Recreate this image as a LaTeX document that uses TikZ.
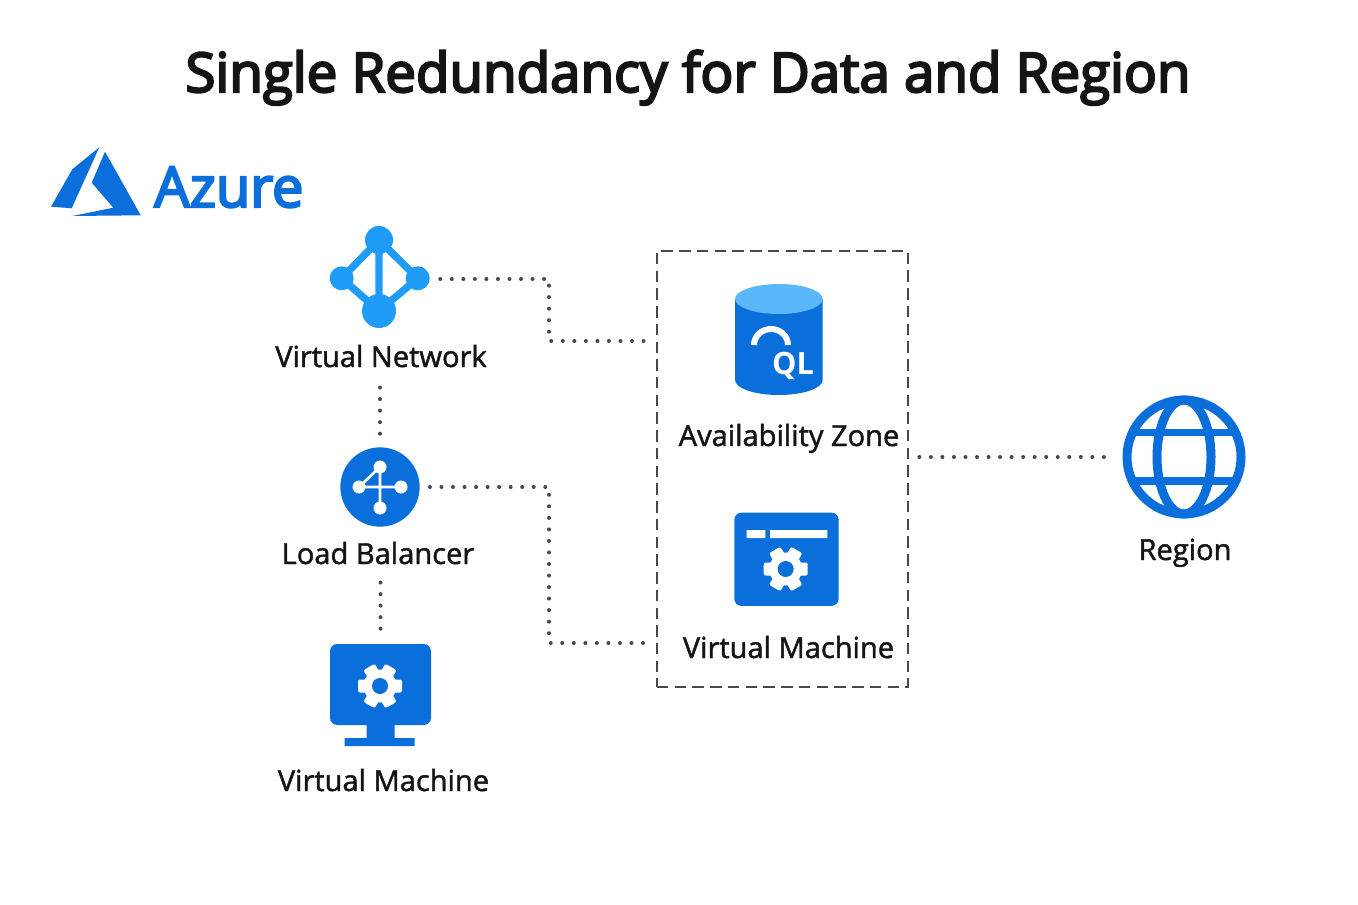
\documentclass[tikz,border=0pt]{standalone}
\usepackage{fontspec}
\setmainfont{Open Sans}
\newfontfamily\titlefont{Open Sans}[FakeBold=4]
\newfontfamily\mediumfont{Open Sans}[FakeBold=1.5]
\usetikzlibrary{arrows,backgrounds}
\definecolor{azureblue}{HTML}{0A6FDA}
\definecolor{netblue}{HTML}{1F9CF8}
\definecolor{lidblue}{HTML}{5AB7FA}
\definecolor{linegrey}{HTML}{484848}
\definecolor{labelblack}{HTML}{141414}
\tikzset{
  dotline/.style={linegrey,line width=3pt,line cap=round,dash pattern=on 0pt off 8.65pt},
  zonebox/.style={draw=linegrey,line width=2pt,dash pattern=on 8.6pt off 4.7pt,inner sep=0pt},
  tag/.style={anchor=base,inner sep=0pt,text=labelblack,font=\fontsize{21.8}{25}\selectfont\mediumfont},
  iconbox/.style={fill=azureblue,rounded corners=5.5pt,inner sep=0pt},
  hub/.style={fill=netblue,circle,inner sep=0pt},
  pics/gear/.style={code={
    \fill[white] (0,0) circle (16.5);
    \foreach \a in {30,90,...,330}
      \fill[white,rotate=\a,rounded corners=1.5pt] (-6.5,0) rectangle (6.5,22);
    \fill[azureblue] (0,0) circle (8);
  }}
}
\begin{document}
\begin{tikzpicture}[x=0.75pt,y=0.75pt,yscale=-1,xscale=1]
\useasboundingbox (0,0) rectangle (1358,905);

% Title
\node (title) [anchor=base,inner sep=0pt,text=labelblack,font=\fontsize{41}{46}\selectfont\titlefont] at (688,92) {Single Redundancy for Data and Region};

%Azure logo
\fill[azureblue] (99.3,147.3) -- (72.3,169.3) -- (51,206.7) -- (71.7,208.3) -- cycle;
\fill[azureblue] (105,151.7) -- (140.7,215.3) -- (72.3,216) -- (113.3,207.7) -- (91.7,182.7) -- cycle;
\node (azure) [anchor=base west,inner sep=0pt,text=azureblue,font=\fontsize{42}{48}\selectfont\titlefont] at (154,207) {Azure};

%Virtual network
\node (vnet) [minimum width=75pt,minimum height=60pt,inner sep=0pt] at (380,279) {};
\draw[netblue,line width=5.5pt] (379,240) -- (341.7,278.3) -- (379,311) -- (417.7,278.3) -- cycle (379,240) -- (379,311);
\node (vnettop) [hub,minimum size=21pt] at (379,240) {};
\node (vnetleft) [hub,minimum size=18pt] at (341.7,278.3) {};
\node (vnetright) [hub,minimum size=18pt] at (417.7,278.3) {};
\node (vnetbottom) [hub,minimum size=25.5pt] at (379,311) {};
\node (vnetlabel) [tag] at (381,367) {Virtual Network};

%Load balancer
\node (lb) [circle,fill=azureblue,minimum size=59.5pt,inner sep=0pt] at (380,487) {};
\draw[white,line width=2pt] (380,467) -- (380,508) (359,487) -- (401,487) (380,467) -- (359,487);
\fill[white] (380,467) circle (6.5) (359,487) circle (6.5) (401,487) circle (6.5) (380,508) circle (6.5);
\node (lblabel) [tag] at (378,564) {Load Balancer};

%Virtual machine, monitor
\node (vm) [iconbox,minimum width=75.75pt,minimum height=60.75pt] at (380.5,684.5) {};
\fill[azureblue] (366.7,720) rectangle (394.7,740) (344.7,738) rectangle (414.7,746);
\pic at (380,686) {gear};
\node (vmlabel) [tag] at (383.5,791) {Virtual Machine};

%Availability zone box
\node (zone) [zonebox,minimum width=188.25pt,minimum height=327pt] at (782.5,469) {};

%Database
\fill[azureblue] (735,299) -- (735,380) arc (180:0:43.85 and 15) -- (822.7,299) -- cycle;
\fill[lidblue] (778.85,299) ellipse (43.85 and 15);
\draw[white,line width=4.5pt] (754,345) arc (180:360:17 and 16);
\node (dbql) [inner sep=0pt,text=white,font=\fontsize{23}{28}\selectfont\bfseries] at (793,366) {QL};
\node (dblabel) [tag] at (789,446) {Availability Zone};

%Server window
\node (win) [iconbox,minimum width=78.3pt,minimum height=70pt] at (786.5,559.3) {};
\fill[white] (746.7,530) rectangle (765.3,538) (770,530) rectangle (827.3,538);
\pic at (785.7,569) {gear};
\node (winlabel) [tag] at (788.5,658) {Virtual Machine};

%Region globe
\node (region) [circle,draw=azureblue,line width=6.75pt,minimum size=85.5pt,inner sep=0pt] at (1184,457) {};
\draw[azureblue,line width=6.75pt] (1184,457) ellipse (27 and 57);
\draw[azureblue,line width=5.5pt] (1132.5,432.5) -- (1235.5,432.5) (1132.5,481) -- (1235.5,481);
\node (regionlabel) [tag] at (1185,560) {Region};

%Connectors
\coordinate (vnetbend) at (549,341);
\coordinate (lbbend) at (549,643);
\draw[dotline,shorten >=6pt] (vnet.east) ++(7.5pt,0) -| (vnetbend) -- (vnetbend -| zone.west);
\draw[dotline,shorten <=7.5pt,shorten >=6pt] (lb.east) -| (lbbend) -- (lbbend -| zone.west);
\draw[dotline,shorten <=15pt,shorten >=6.5pt] (lb.north |- vnetlabel.south) -- (lb.north);
\draw[dotline,shorten <=13.5pt,shorten >=9pt] (vm.north |- lblabel.south) -- (vm.north);
\draw[dotline,shorten <=7.5pt,shorten >=7pt] (zone.east |- region.west) -- (region.west);

\end{tikzpicture}
\end{document}
